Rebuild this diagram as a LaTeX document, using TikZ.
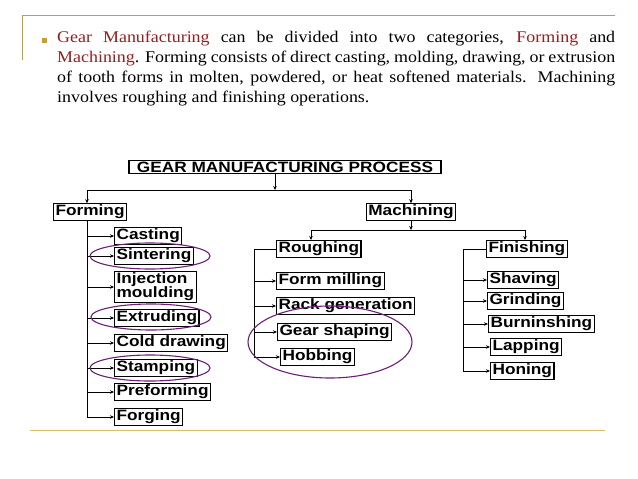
\documentclass[tikz,border=0pt]{standalone}
\usepackage{fontspec}
\setmainfont[FakeStretch=1.1]{Liberation Serif}
\newfontfamily\arialf[FakeStretch=1.15]{Liberation Sans}
\usetikzlibrary{arrows.meta}
\definecolor{gold}{RGB}{200,160,40}
\definecolor{dred}{RGB}{150,30,30}
\definecolor{purp}{RGB}{110,30,120}
\tikzset{
 bx/.style={draw, line width=1.1pt, font=\arialf\bfseries\fontsize{15}{14}\selectfont, inner xsep=2pt, inner ysep=1.2pt, anchor=west, align=left},
 ln/.style={line width=0.9pt},
 ar/.style={line width=0.9pt,-{Stealth[length=4pt,width=3.5pt]}},
 ov/.style={draw=purp, line width=1.1pt}
}
\begin{document}
\begin{tikzpicture}[x=1pt,y=-1pt]
\useasboundingbox (0,0) rectangle (638,479);
\fill[white] (0,0) rectangle (638,479);
\coordinate (t1) at (22,15); \coordinate (t2) at (615,15); \coordinate (t3) at (22,60);
\draw[gold, line width=1pt] (t3) -- (t1) -- (t2);
\coordinate (b1) at (30,430); \coordinate (b2) at (605,430);
\draw[gold!70, line width=1pt] (b1) -- (b2);
\node[fill=gold, minimum size=5pt, inner sep=0pt] (bul) at (44,40) {};
\node[anchor=north west, text width=558pt, align=justify, inner sep=0pt, font=\fontsize{16.3}{20}\selectfont] (txt) at (57,31)
 {\hyphenpenalty=10000\exhyphenpenalty=10000\emergencystretch=3em \textcolor{dred}{Gear Manufacturing} can be divided into two categories, \textcolor{dred}{Forming} and\linebreak \textcolor{dred}{Machining}. Forming consists of direct casting, molding, drawing, or extrusion\linebreak of tooth forms in molten, powdered, or heat softened materials. Machining\linebreak involves roughing and finishing operations.};

\node[bx, anchor=center, minimum width=312pt] (gmp) at (285,167) {GEAR MANUFACTURING PROCESS};
\node[bx] (form) at (53,212) {Forming};
\node[bx, anchor=center] (mach) at (411,212) {Machining};
\coordinate (bus) at (275,190);
\draw[ar] (gmp.south -| bus) -- (bus);
\draw[ln] (87,190) -- (411,190);
\draw[ar] (87,190) -- (form.north -| 87,0);
\draw[ar] (411,190) -- (mach.north);

\foreach \n/\t/\y in {cas/Casting/236, sin/Sintering/256, inj/{Injection\\moulding}/287, ext/Extruding/318, col/Cold drawing/343, sta/Stamping/368, pre/Preforming/392, forg/Forging/417}{
  \node[bx] (\n) at (114,\y) {\t};
  \draw[ar] (87,\y) -- (\n.west);
}
\draw[ln] (form.south -| 87,0) -- (87,417);

\draw[ar] (mach.south) -- (411,230);
\draw[ln] (311,230) -- (525,230);
\node[bx] (rou) at (276,249) {Roughing};
\node[bx] (fin) at (486,249) {Finishing};
\draw[ar] (311,230) -- (311,240);
\draw[ar] (525,230) -- (525,240);
\draw[ln] (rou.west) -- (254,249) -- (254,357);
\draw[ln] (fin.west) -- (463,249) -- (463,371);
\foreach \n/\t/\y/\xx in {fm/Form milling/281/276, rg/Rack generation/306/276, gs/Gear shaping/332/277, hob/Hobbing/357/280}{
  \node[bx] (\n) at (\xx,\y) {\t};
  \draw[ar] (254,\y) -- (\n.west);
}
\foreach \n/\t/\y/\xx in {sh/Shaving/280/487, gr/Grinding/301/487, bu/Burninshing/324/488, la/Lapping/347/490, ho/Honing/371/490}{
  \node[bx] (\n) at (\xx,\y) {\t};
  \draw[ar] (463,\y) -- (\n.west);
}
\draw[ov] (150,256) ellipse (60 and 13);
\draw[ov] (151,317) ellipse (60 and 13);
\draw[ov] (150,368) ellipse (60 and 13);
\draw[ov] (330,342) ellipse (82 and 36);
\end{tikzpicture}
\end{document}
